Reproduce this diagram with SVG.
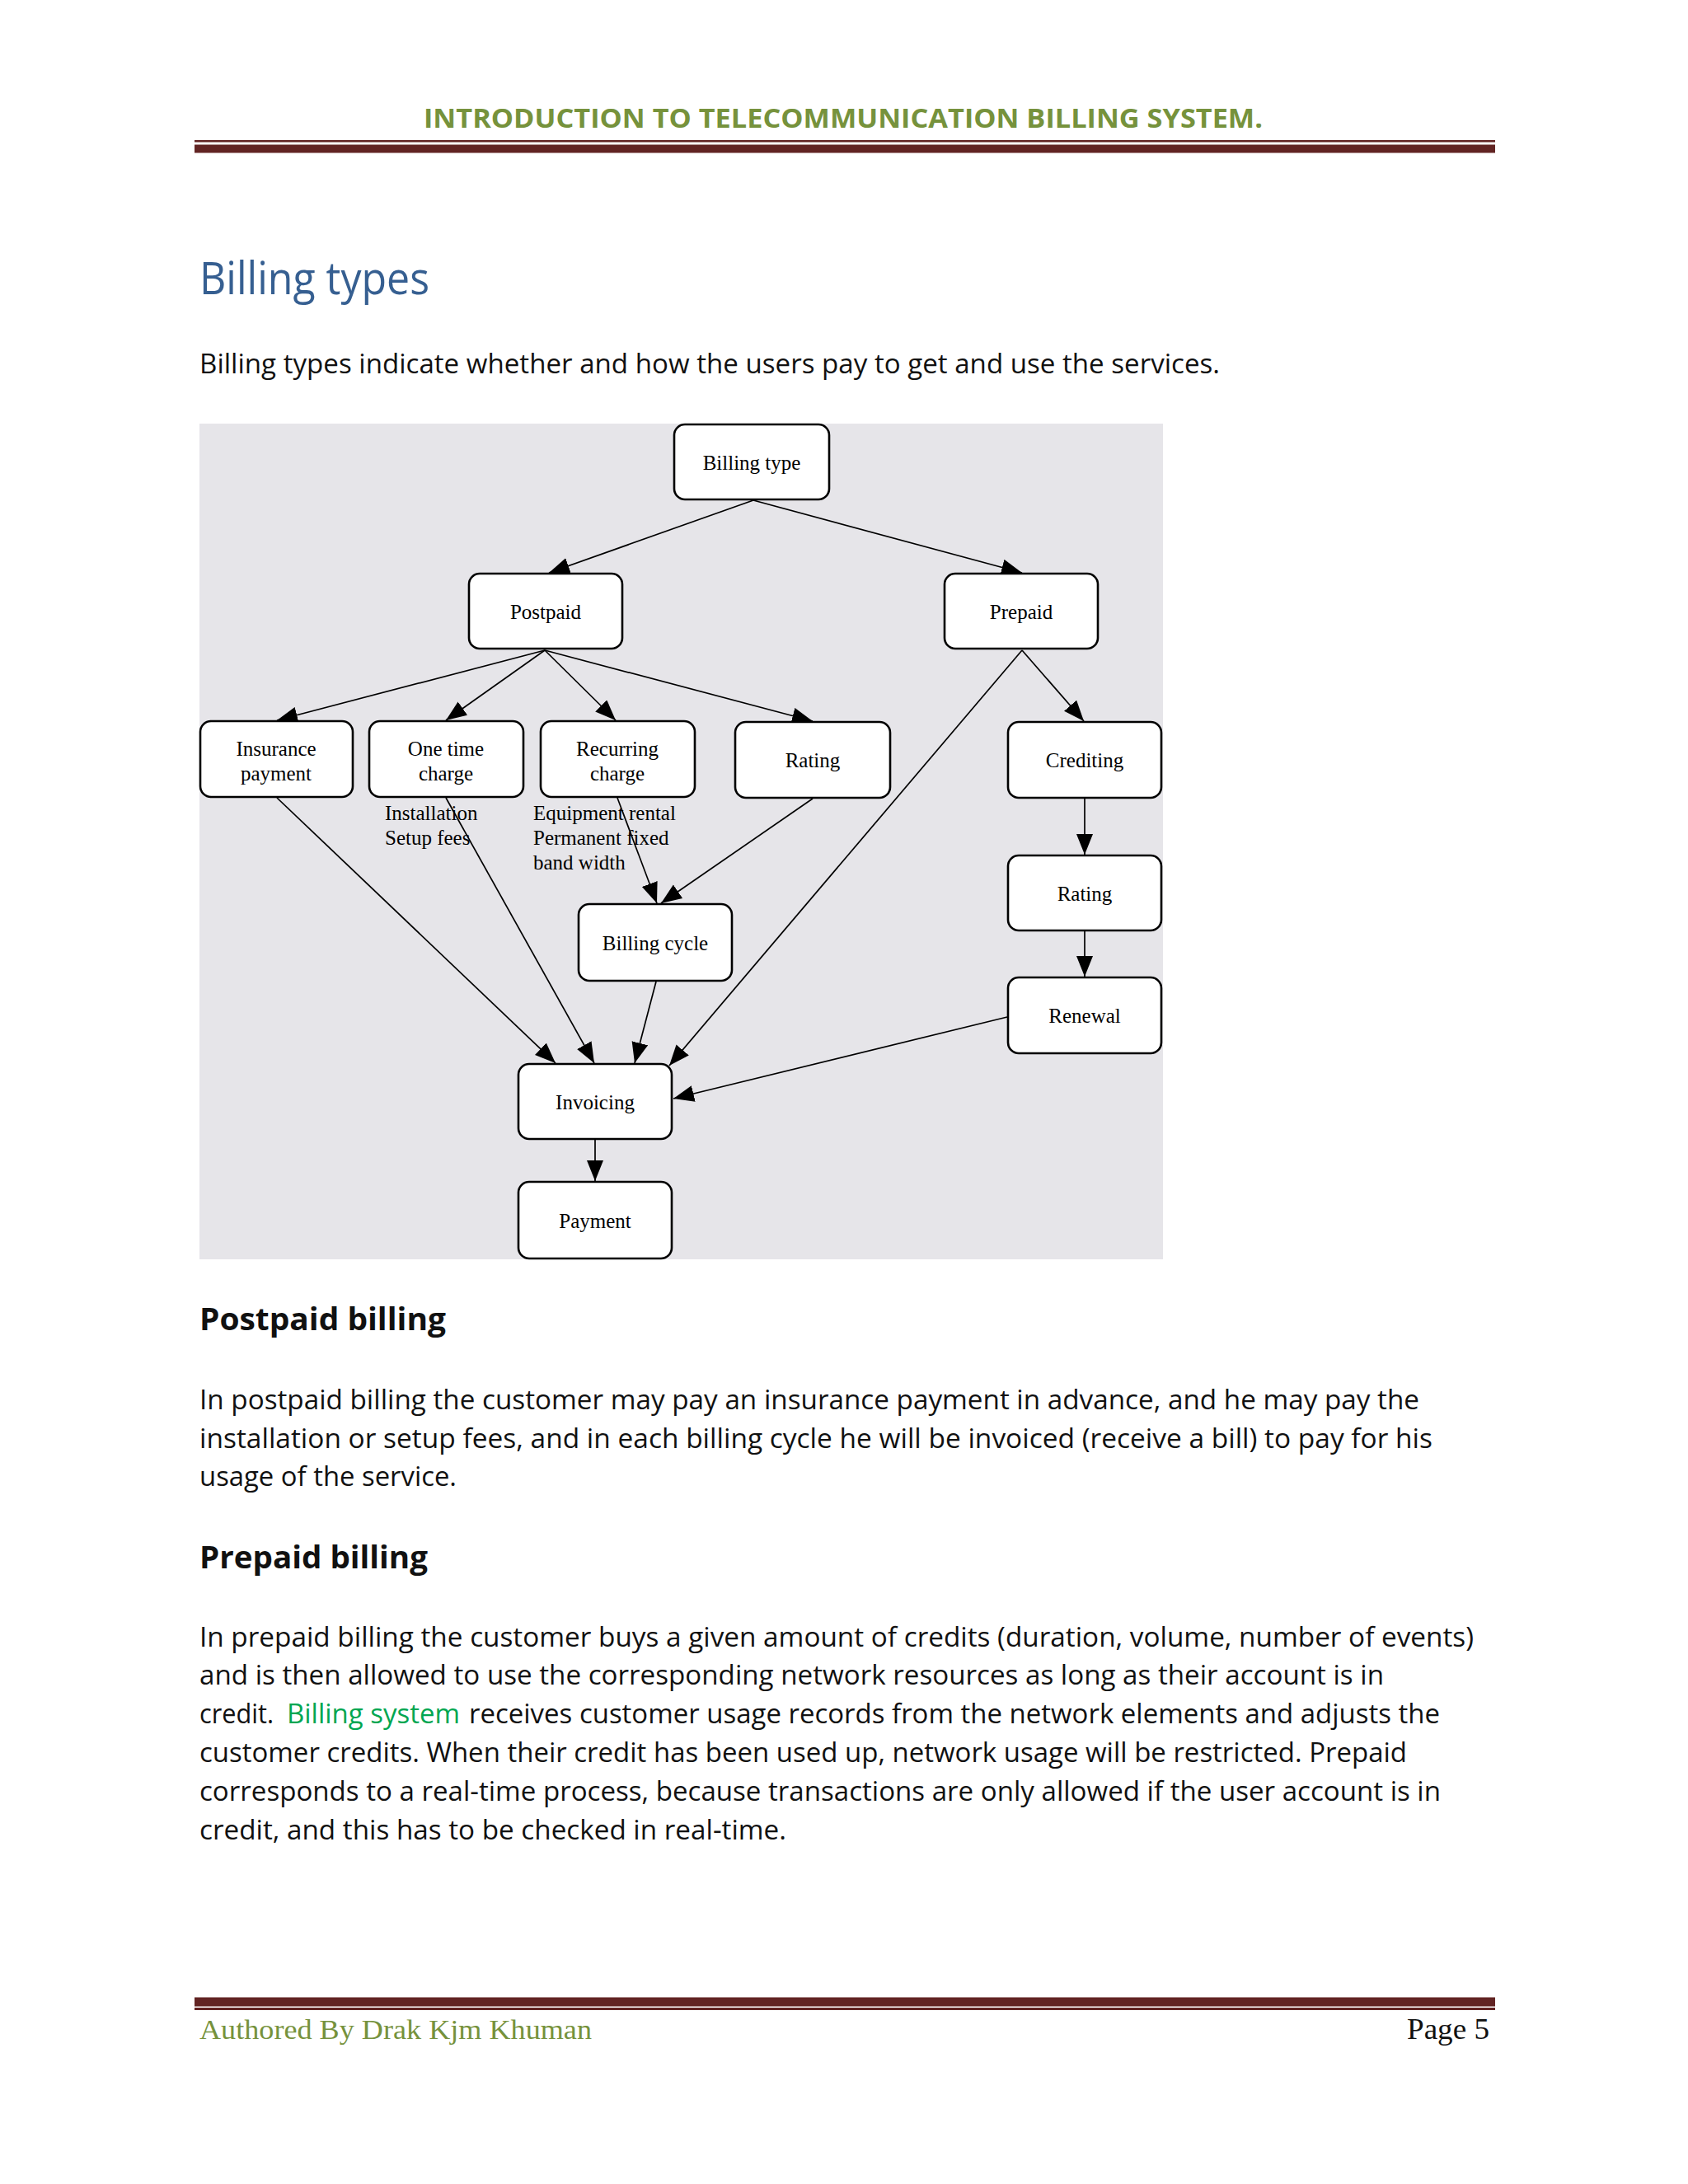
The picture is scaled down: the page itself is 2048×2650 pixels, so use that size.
<svg xmlns="http://www.w3.org/2000/svg" width="2048" height="2650" viewBox="0 0 2048 2650">
<defs>
<style>
.bg{fill:#ffffff}
.hdr{font-family:"Open Sans","Liberation Sans",sans-serif;font-weight:700;font-size:32px;fill:#76923C}
.rule{fill:#622423}
.h1{font-family:"Open Sans","Liberation Sans",sans-serif;font-size:54px;fill:#365F91}
.h2{font-family:"Open Sans","Liberation Sans",sans-serif;font-weight:700;font-size:38px;fill:#111111}
.body{font-family:"Open Sans","Liberation Sans",sans-serif;font-size:32px;fill:#111111}
.link{fill:#00A651}
.foot{font-family:"Liberation Serif","DejaVu Serif",serif;font-size:34px;fill:#76923C}
.page{font-family:"Liberation Serif","DejaVu Serif",serif;font-size:35px;fill:#111111}
.panel{fill:#E6E5E9}
.node rect{fill:#ffffff;stroke:#000000;stroke-width:2.6}
.node text,.elabel{font-family:"Liberation Serif","DejaVu Serif",serif;font-size:25px;fill:#000000;text-anchor:middle}
.elabel{text-anchor:start}
.edge{fill:none;stroke:#000000;stroke-width:1.7}
</style>
<marker id="arr" markerUnits="userSpaceOnUse" markerWidth="28" markerHeight="22" refX="25" refY="10" orient="auto">
<path d="M0,0 L25,10 L0,20 z" fill="#000000"/>
</marker>
</defs>
<rect class="bg" x="0" y="0" width="2048" height="2650"/>

<g id="header">
<text class="hdr" x="514" y="155" textLength="1018" lengthAdjust="spacingAndGlyphs">INTRODUCTION TO TELECOMMUNICATION BILLING SYSTEM.</text>
<rect class="rule" x="236" y="170" width="1578" height="2.5"/>
<rect class="rule" x="236" y="175.5" width="1578" height="10"/>
</g>

<g id="title">
<text class="h1" x="242" y="357" textLength="279" lengthAdjust="spacingAndGlyphs">Billing types</text>
<text class="body" x="242" y="453" textLength="1238" lengthAdjust="spacingAndGlyphs">Billing types indicate whether and how the users pay to get and use the services.</text>
</g>

<rect class="panel" x="242" y="514" width="1169" height="1014"/>

<g id="connectors">
<line class="edge" x1="914" y1="607" x2="666" y2="695" marker-end="url(#arr)"/>
<line class="edge" x1="914" y1="607" x2="1240" y2="695" marker-end="url(#arr)"/>
<line class="edge" x1="661" y1="789" x2="336" y2="874" marker-end="url(#arr)"/>
<line class="edge" x1="661" y1="789" x2="541" y2="874" marker-end="url(#arr)"/>
<line class="edge" x1="661" y1="789" x2="747" y2="874" marker-end="url(#arr)"/>
<line class="edge" x1="661" y1="789" x2="986" y2="875" marker-end="url(#arr)"/>
<line class="edge" x1="1240" y1="789" x2="1315" y2="875" marker-end="url(#arr)"/>
<line class="edge" x1="1240" y1="789" x2="812" y2="1293" marker-end="url(#arr)"/>
<line class="edge" x1="336" y1="968" x2="674" y2="1290" marker-end="url(#arr)"/>
<line class="edge" x1="541" y1="968" x2="721" y2="1290" marker-end="url(#arr)"/>
<line class="edge" x1="796" y1="1191" x2="770" y2="1290" marker-end="url(#arr)"/>
<line class="edge" x1="749" y1="968" x2="797" y2="1096" marker-end="url(#arr)"/>
<line class="edge" x1="986" y1="969" x2="802" y2="1096" marker-end="url(#arr)"/>
<line class="edge" x1="1316" y1="968" x2="1316" y2="1037" marker-end="url(#arr)"/>
<line class="edge" x1="1316" y1="1130" x2="1316" y2="1185" marker-end="url(#arr)"/>
<line class="edge" x1="1222" y1="1234" x2="817" y2="1333" marker-end="url(#arr)"/>
<line class="edge" x1="722" y1="1382" x2="722" y2="1433" marker-end="url(#arr)"/>
<text class="elabel" x="467" y="995">Installation</text>
<text class="elabel" x="467" y="1025">Setup fees</text>
<text class="elabel" x="647" y="995">Equipment rental</text>
<text class="elabel" x="647" y="1025">Permanent fixed</text>
<text class="elabel" x="647" y="1055">band width</text>
</g>

<g id="n-billing-type" class="node"><rect x="818" y="515" width="188" height="91" rx="13"/><text x="912" y="570">Billing type</text></g>
<g id="n-postpaid" class="node"><rect x="569" y="696" width="186" height="91" rx="13"/><text x="662" y="751">Postpaid</text></g>
<g id="n-prepaid" class="node"><rect x="1146" y="696" width="186" height="91" rx="13"/><text x="1239" y="751">Prepaid</text></g>
<g id="n-insurance" class="node"><rect x="243" y="875" width="185" height="92" rx="13"/><text x="335" y="917">Insurance</text><text x="335" y="947">payment</text></g>
<g id="n-onetime" class="node"><rect x="448" y="875" width="187" height="92" rx="13"/><text x="541" y="917">One time</text><text x="541" y="947">charge</text></g>
<g id="n-recurring" class="node"><rect x="656" y="875" width="187" height="92" rx="13"/><text x="749" y="917">Recurring</text><text x="749" y="947">charge</text></g>
<g id="n-rating-post" class="node"><rect x="892" y="876" width="188" height="92" rx="13"/><text x="986" y="931">Rating</text></g>
<g id="n-crediting" class="node"><rect x="1223" y="876" width="186" height="92" rx="13"/><text x="1316" y="931">Crediting</text></g>
<g id="n-rating-pre" class="node"><rect x="1223" y="1038" width="186" height="91" rx="13"/><text x="1316" y="1093">Rating</text></g>
<g id="n-renewal" class="node"><rect x="1223" y="1186" width="186" height="92" rx="13"/><text x="1316" y="1241">Renewal</text></g>
<g id="n-billing-cycle" class="node"><rect x="702" y="1097" width="186" height="93" rx="13"/><text x="795" y="1153">Billing cycle</text></g>
<g id="n-invoicing" class="node"><rect x="629" y="1291" width="186" height="91" rx="13"/><text x="722" y="1346">Invoicing</text></g>
<g id="n-payment" class="node"><rect x="629" y="1434" width="186" height="93" rx="13"/><text x="722" y="1490">Payment</text></g>

<g id="postpaid-text">
<text class="h2" x="242" y="1614" textLength="299" lengthAdjust="spacingAndGlyphs">Postpaid billing</text>
<text class="body" x="242" y="1710" textLength="1480" lengthAdjust="spacingAndGlyphs">In postpaid billing the customer may pay an insurance payment in advance, and he may pay the</text>
<text class="body" x="242" y="1757" textLength="1496" lengthAdjust="spacingAndGlyphs">installation or setup fees, and in each billing cycle he will be invoiced (receive a bill) to pay for his</text>
<text class="body" x="242" y="1803" textLength="312" lengthAdjust="spacingAndGlyphs">usage of the service.</text>
</g>

<g id="prepaid-text">
<text class="h2" x="242" y="1903" textLength="277" lengthAdjust="spacingAndGlyphs">Prepaid billing</text>
<text class="body" x="242" y="1998" textLength="1546" lengthAdjust="spacingAndGlyphs">In prepaid billing the customer buys a given amount of credits (duration, volume, number of events)</text>
<text class="body" x="242" y="2044" textLength="1437" lengthAdjust="spacingAndGlyphs">and is then allowed to use the corresponding network resources as long as their account is in</text>
<text class="body" x="242" y="2091" textLength="90" lengthAdjust="spacingAndGlyphs">credit.</text>
<text class="body link" x="348" y="2091" textLength="210" lengthAdjust="spacingAndGlyphs">Billing system</text>
<text class="body" x="569" y="2091" textLength="1178" lengthAdjust="spacingAndGlyphs">receives customer usage records from the network elements and adjusts the</text>
<text class="body" x="242" y="2138" textLength="1465" lengthAdjust="spacingAndGlyphs">customer credits. When their credit has been used up, network usage will be restricted. Prepaid</text>
<text class="body" x="242" y="2185" textLength="1506" lengthAdjust="spacingAndGlyphs">corresponds to a real-time process, because transactions are only allowed if the user account is in</text>
<text class="body" x="242" y="2232" textLength="712" lengthAdjust="spacingAndGlyphs">credit, and this has to be checked in real-time.</text>
</g>

<g id="footer">
<rect class="rule" x="236" y="2423.5" width="1578" height="11"/>
<rect class="rule" x="236" y="2436" width="1578" height="3"/>
<text class="foot" x="242" y="2474" textLength="476" lengthAdjust="spacingAndGlyphs">Authored By Drak Kjm Khuman</text>
<text class="page" x="1707" y="2474" textLength="100" lengthAdjust="spacingAndGlyphs">Page 5</text>
</g>
</svg>
